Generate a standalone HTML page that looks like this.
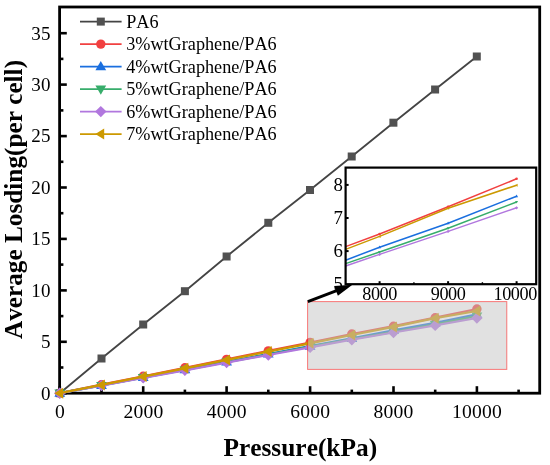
<!DOCTYPE html><html><head><meta charset="utf-8"><title>Average Loading vs Pressure</title>
<style>html,body{margin:0;padding:0;background:#fff}body{width:550px;height:465px;overflow:hidden}svg{display:block}text{font-family:"Liberation Serif","Times New Roman",serif;fill:#000;font-kerning:none}</style></head><body>
<svg width="550" height="465" viewBox="0 0 550 465">
<rect x="0" y="0" width="550" height="465" fill="#fff"/>
<g stroke="#000" stroke-width="2.6" fill="none">
<rect x="59.6" y="7.0" width="480.1" height="386.2" stroke-width="2.8"/>
<line x1="59.8" y1="393.2" x2="59.8" y2="386.2"/>
<line x1="101.5" y1="393.2" x2="101.5" y2="389.6"/>
<line x1="143.2" y1="393.2" x2="143.2" y2="386.2"/>
<line x1="184.9" y1="393.2" x2="184.9" y2="389.6"/>
<line x1="226.6" y1="393.2" x2="226.6" y2="386.2"/>
<line x1="268.3" y1="393.2" x2="268.3" y2="389.6"/>
<line x1="310.1" y1="393.2" x2="310.1" y2="386.2"/>
<line x1="351.8" y1="393.2" x2="351.8" y2="389.6"/>
<line x1="393.5" y1="393.2" x2="393.5" y2="386.2"/>
<line x1="435.2" y1="393.2" x2="435.2" y2="389.6"/>
<line x1="476.9" y1="393.2" x2="476.9" y2="386.2"/>
<line x1="518.6" y1="393.2" x2="518.6" y2="389.6"/>
<line x1="59.6" y1="393.2" x2="66.8" y2="393.2"/>
<line x1="59.6" y1="367.5" x2="63.4" y2="367.5"/>
<line x1="59.6" y1="341.8" x2="66.8" y2="341.8"/>
<line x1="59.6" y1="316.1" x2="63.4" y2="316.1"/>
<line x1="59.6" y1="290.4" x2="66.8" y2="290.4"/>
<line x1="59.6" y1="264.6" x2="63.4" y2="264.6"/>
<line x1="59.6" y1="238.9" x2="66.8" y2="238.9"/>
<line x1="59.6" y1="213.2" x2="63.4" y2="213.2"/>
<line x1="59.6" y1="187.5" x2="66.8" y2="187.5"/>
<line x1="59.6" y1="161.8" x2="63.4" y2="161.8"/>
<line x1="59.6" y1="136.1" x2="66.8" y2="136.1"/>
<line x1="59.6" y1="110.4" x2="63.4" y2="110.4"/>
<line x1="59.6" y1="84.6" x2="66.8" y2="84.6"/>
<line x1="59.6" y1="58.9" x2="63.4" y2="58.9"/>
<line x1="59.6" y1="33.2" x2="66.8" y2="33.2"/>
</g>
<polyline fill="none" stroke="#444" stroke-width="1.8" points="59.8,393.2 101.5,358.5 143.2,324.5 184.9,291.2 226.6,256.5 268.3,222.8 310.0,190.0 351.7,156.5 393.4,122.7 435.1,89.5 476.8,56.5"/>
<rect x="55.8" y="389.2" width="8.0" height="8.0" fill="#515151"/>
<rect x="97.5" y="354.5" width="8.0" height="8.0" fill="#515151"/>
<rect x="139.2" y="320.5" width="8.0" height="8.0" fill="#515151"/>
<rect x="180.9" y="287.2" width="8.0" height="8.0" fill="#515151"/>
<rect x="222.6" y="252.5" width="8.0" height="8.0" fill="#515151"/>
<rect x="264.3" y="218.8" width="8.0" height="8.0" fill="#515151"/>
<rect x="306.0" y="186.0" width="8.0" height="8.0" fill="#515151"/>
<rect x="347.7" y="152.5" width="8.0" height="8.0" fill="#515151"/>
<rect x="389.4" y="118.7" width="8.0" height="8.0" fill="#515151"/>
<rect x="431.1" y="85.5" width="8.0" height="8.0" fill="#515151"/>
<rect x="472.8" y="52.5" width="8.0" height="8.0" fill="#515151"/>
<polyline fill="none" stroke="#f14040" stroke-width="2.2" points="59.8,393.2 101.5,384.7 143.2,376.3 184.9,367.8 226.6,359.4 268.3,350.9 310.1,342.5 351.8,334.0 393.5,326.2 435.2,317.7 476.9,309.0"/>
<circle cx="59.8" cy="393.2" r="4.7" fill="#f14040"/>
<circle cx="101.5" cy="384.7" r="4.7" fill="#f14040"/>
<circle cx="143.2" cy="376.3" r="4.7" fill="#f14040"/>
<circle cx="184.9" cy="367.8" r="4.7" fill="#f14040"/>
<circle cx="226.6" cy="359.4" r="4.7" fill="#f14040"/>
<circle cx="268.3" cy="350.9" r="4.7" fill="#f14040"/>
<circle cx="310.1" cy="342.5" r="4.7" fill="#f14040"/>
<circle cx="351.8" cy="334.0" r="4.7" fill="#f14040"/>
<circle cx="393.5" cy="326.2" r="4.7" fill="#f14040"/>
<circle cx="435.2" cy="317.7" r="4.7" fill="#f14040"/>
<circle cx="476.9" cy="309.0" r="4.7" fill="#f14040"/>
<polyline fill="none" stroke="#1a6fdf" stroke-width="2.2" points="59.8,393.2 101.5,385.4 143.2,377.5 184.9,369.7 226.6,361.9 268.3,354.0 310.1,346.2 351.8,338.4 393.5,330.3 435.2,322.8 476.9,314.4"/>
<polygon points="59.8,387.6 65.2,396.8 54.4,396.8" fill="#1a6fdf"/>
<polygon points="101.5,379.8 106.9,389.0 96.1,389.0" fill="#1a6fdf"/>
<polygon points="143.2,371.9 148.6,381.1 137.8,381.1" fill="#1a6fdf"/>
<polygon points="184.9,364.1 190.3,373.3 179.5,373.3" fill="#1a6fdf"/>
<polygon points="226.6,356.3 232.0,365.5 221.2,365.5" fill="#1a6fdf"/>
<polygon points="268.3,348.4 273.7,357.6 262.9,357.6" fill="#1a6fdf"/>
<polygon points="310.1,340.6 315.5,349.8 304.7,349.8" fill="#1a6fdf"/>
<polygon points="351.8,332.8 357.2,342.0 346.4,342.0" fill="#1a6fdf"/>
<polygon points="393.5,324.7 398.9,333.9 388.1,333.9" fill="#1a6fdf"/>
<polygon points="435.2,317.2 440.6,326.4 429.8,326.4" fill="#1a6fdf"/>
<polygon points="476.9,308.8 482.3,318.0 471.5,318.0" fill="#1a6fdf"/>
<polyline fill="none" stroke="#37ad6b" stroke-width="2.2" points="59.8,393.2 101.5,385.5 143.2,377.7 184.9,370.0 226.6,362.2 268.3,354.5 310.1,346.7 351.8,339.0 393.5,331.8 435.2,324.4 476.9,316.2"/>
<polygon points="59.8,398.8 65.2,389.6 54.4,389.6" fill="#37ad6b"/>
<polygon points="101.5,391.1 106.9,381.9 96.1,381.9" fill="#37ad6b"/>
<polygon points="143.2,383.3 148.6,374.1 137.8,374.1" fill="#37ad6b"/>
<polygon points="184.9,375.6 190.3,366.4 179.5,366.4" fill="#37ad6b"/>
<polygon points="226.6,367.8 232.0,358.6 221.2,358.6" fill="#37ad6b"/>
<polygon points="268.3,360.1 273.7,350.9 262.9,350.9" fill="#37ad6b"/>
<polygon points="310.1,352.3 315.5,343.1 304.7,343.1" fill="#37ad6b"/>
<polygon points="351.8,344.6 357.2,335.4 346.4,335.4" fill="#37ad6b"/>
<polygon points="393.5,337.4 398.9,328.2 388.1,328.2" fill="#37ad6b"/>
<polygon points="435.2,330.0 440.6,320.8 429.8,320.8" fill="#37ad6b"/>
<polygon points="476.9,321.8 482.3,312.6 471.5,312.6" fill="#37ad6b"/>
<polyline fill="none" stroke="#b177de" stroke-width="2.2" points="59.8,393.2 101.5,385.6 143.2,377.9 184.9,370.3 226.6,362.6 268.3,355.0 310.1,347.4 351.8,339.7 393.5,332.5 435.2,325.4 476.9,318.0"/>
<polygon points="59.8,387.5 65.5,393.2 59.8,398.9 54.1,393.2" fill="#b177de"/>
<polygon points="101.5,379.9 107.2,385.6 101.5,391.3 95.8,385.6" fill="#b177de"/>
<polygon points="143.2,372.2 148.9,377.9 143.2,383.6 137.5,377.9" fill="#b177de"/>
<polygon points="184.9,364.6 190.6,370.3 184.9,376.0 179.2,370.3" fill="#b177de"/>
<polygon points="226.6,356.9 232.3,362.6 226.6,368.3 220.9,362.6" fill="#b177de"/>
<polygon points="268.3,349.3 274.0,355.0 268.3,360.7 262.6,355.0" fill="#b177de"/>
<polygon points="310.1,341.7 315.8,347.4 310.1,353.1 304.4,347.4" fill="#b177de"/>
<polygon points="351.8,334.0 357.5,339.7 351.8,345.4 346.1,339.7" fill="#b177de"/>
<polygon points="393.5,326.8 399.2,332.5 393.5,338.2 387.8,332.5" fill="#b177de"/>
<polygon points="435.2,319.7 440.9,325.4 435.2,331.1 429.5,325.4" fill="#b177de"/>
<polygon points="476.9,312.3 482.6,318.0 476.9,323.7 471.2,318.0" fill="#b177de"/>
<polyline fill="none" stroke="#cc9900" stroke-width="2.2" points="59.8,393.2 101.5,384.9 143.2,376.6 184.9,368.3 226.6,359.9 268.3,351.6 310.1,343.3 351.8,335.0 393.5,326.9 435.2,318.2 476.9,311.0"/>
<polygon points="54.3,393.2 63.2,387.7 63.2,398.7" fill="#cc9900"/>
<polygon points="96.0,384.9 104.9,379.4 104.9,390.4" fill="#cc9900"/>
<polygon points="137.7,376.6 146.6,371.1 146.6,382.1" fill="#cc9900"/>
<polygon points="179.4,368.3 188.3,362.8 188.3,373.8" fill="#cc9900"/>
<polygon points="221.1,359.9 230.0,354.4 230.0,365.4" fill="#cc9900"/>
<polygon points="262.8,351.6 271.7,346.1 271.7,357.1" fill="#cc9900"/>
<polygon points="304.6,343.3 313.5,337.8 313.5,348.8" fill="#cc9900"/>
<polygon points="346.3,335.0 355.2,329.5 355.2,340.5" fill="#cc9900"/>
<polygon points="388.0,326.9 396.9,321.4 396.9,332.4" fill="#cc9900"/>
<polygon points="429.7,318.2 438.6,312.7 438.6,323.7" fill="#cc9900"/>
<polygon points="471.4,311.0 480.3,305.5 480.3,316.5" fill="#cc9900"/>
<rect x="307.6" y="301.6" width="199.2" height="67.8" fill="#c4c4c4" fill-opacity="0.5" stroke="#ff0000" stroke-opacity="0.5" stroke-width="1"/>
<g font-size="19.6" letter-spacing="0.2" text-anchor="middle">
<text x="59.9" y="417.6">0</text>
<text x="143.4" y="417.6">2000</text>
<text x="226.8" y="417.6">4000</text>
<text x="310.2" y="417.6">6000</text>
<text x="393.6" y="417.6">8000</text>
<text x="477.0" y="417.6">10000</text>
</g>
<g font-size="19" letter-spacing="0.35" text-anchor="end">
<text x="50.9" y="399.5">0</text>
<text x="50.9" y="348.1">5</text>
<text x="50.9" y="296.7">10</text>
<text x="50.9" y="245.2">15</text>
<text x="50.9" y="193.8">20</text>
<text x="50.9" y="142.4">25</text>
<text x="50.9" y="90.9">30</text>
<text x="50.9" y="39.5">35</text>
</g>
<text x="300.3" y="455.7" font-size="25.4" font-weight="bold" text-anchor="middle">Pressure(kPa)</text>
<text transform="translate(22.4,199.5) rotate(-90)" font-size="25.25" font-weight="bold" text-anchor="middle">Average Losding(per cell)</text>
<line x1="80" y1="21.6" x2="121.6" y2="21.6" stroke="#444" stroke-width="1.8"/>
<rect x="96.8" y="17.6" width="8.0" height="8.0" fill="#515151"/>
<text x="126.2" y="27.7" font-size="18.2">PA6</text>
<line x1="80" y1="44.1" x2="121.6" y2="44.1" stroke="#f14040" stroke-width="1.8"/>
<circle cx="100.8" cy="44.1" r="4.7" fill="#f14040"/>
<text x="126.2" y="50.2" font-size="18.2">3%wtGraphene/PA6</text>
<line x1="80" y1="66.6" x2="121.6" y2="66.6" stroke="#1a6fdf" stroke-width="1.8"/>
<polygon points="100.8,61.0 106.2,70.2 95.4,70.2" fill="#1a6fdf"/>
<text x="126.2" y="72.7" font-size="18.2">4%wtGraphene/PA6</text>
<line x1="80" y1="89.1" x2="121.6" y2="89.1" stroke="#37ad6b" stroke-width="1.8"/>
<polygon points="100.8,94.7 106.2,85.5 95.4,85.5" fill="#37ad6b"/>
<text x="126.2" y="95.2" font-size="18.2">5%wtGraphene/PA6</text>
<line x1="80" y1="111.6" x2="121.6" y2="111.6" stroke="#b177de" stroke-width="1.8"/>
<polygon points="100.8,105.9 106.5,111.6 100.8,117.3 95.1,111.6" fill="#b177de"/>
<text x="126.2" y="117.7" font-size="18.2">6%wtGraphene/PA6</text>
<line x1="80" y1="134.1" x2="121.6" y2="134.1" stroke="#cc9900" stroke-width="1.8"/>
<polygon points="95.3,134.1 104.2,128.6 104.2,139.6" fill="#cc9900"/>
<text x="126.2" y="140.2" font-size="18.2">7%wtGraphene/PA6</text>
<rect x="345.6" y="167.6" width="190.6" height="116.6" fill="#fff"/>
<polyline fill="none" stroke="#f14040" stroke-width="1.5" points="345.6,246.6 379.6,234.0 448.1,206.8 516.6,178.8"/>
<circle cx="379.6" cy="234.0" r="1.3" fill="#f14040"/>
<circle cx="448.1" cy="206.8" r="1.3" fill="#f14040"/>
<circle cx="516.6" cy="178.8" r="1.3" fill="#f14040"/>
<polyline fill="none" stroke="#1a6fdf" stroke-width="1.5" points="345.6,260.2 379.6,247.2 448.1,223.2 516.6,196.2"/>
<polygon points="379.6,245.6 381.1,248.2 378.1,248.2" fill="#1a6fdf"/>
<polygon points="448.1,221.6 449.6,224.2 446.6,224.2" fill="#1a6fdf"/>
<polygon points="516.6,194.6 518.1,197.2 515.1,197.2" fill="#1a6fdf"/>
<polyline fill="none" stroke="#37ad6b" stroke-width="1.5" points="345.6,263.6 379.6,252.0 448.1,228.2 516.6,202.0"/>
<polygon points="379.6,253.6 381.1,251.0 378.1,251.0" fill="#37ad6b"/>
<polygon points="448.1,229.8 449.6,227.2 446.6,227.2" fill="#37ad6b"/>
<polygon points="516.6,203.6 518.1,201.0 515.1,201.0" fill="#37ad6b"/>
<polyline fill="none" stroke="#b177de" stroke-width="1.5" points="345.6,266.0 379.6,254.4 448.1,231.4 516.6,207.8"/>
<polygon points="379.6,252.8 381.2,254.4 379.6,256.0 378.0,254.4" fill="#b177de"/>
<polygon points="448.1,229.8 449.7,231.4 448.1,233.0 446.5,231.4" fill="#b177de"/>
<polygon points="516.6,206.2 518.2,207.8 516.6,209.4 515.0,207.8" fill="#b177de"/>
<polyline fill="none" stroke="#cc9900" stroke-width="1.5" points="345.6,249.4 379.6,236.4 448.1,208.2 516.6,185.2"/>
<polygon points="378.1,236.4 380.6,234.9 380.6,237.9" fill="#cc9900"/>
<polygon points="446.6,208.2 449.1,206.7 449.1,209.7" fill="#cc9900"/>
<polygon points="515.1,185.2 517.6,183.7 517.6,186.7" fill="#cc9900"/>
<g stroke="#000" stroke-width="2" fill="none">
<rect x="345.6" y="167.6" width="190.6" height="116.6" stroke-width="2.2"/>
<line x1="379.6" y1="284.2" x2="379.6" y2="281.2"/>
<line x1="448.1" y1="284.2" x2="448.1" y2="281.2"/>
<line x1="516.6" y1="284.2" x2="516.6" y2="281.2"/>
<line x1="413.9" y1="284.2" x2="413.9" y2="282.2" stroke-width="1.4"/>
<line x1="482.4" y1="284.2" x2="482.4" y2="282.2" stroke-width="1.4"/>
<line x1="345.6" y1="251.1" x2="348.6" y2="251.1"/>
<line x1="345.6" y1="218.0" x2="348.6" y2="218.0"/>
<line x1="345.6" y1="184.9" x2="348.6" y2="184.9"/>
</g>
<g font-size="18.2" letter-spacing="-0.45" text-anchor="middle">
<text x="379.6" y="300.4">8000</text>
<text x="448.1" y="300.4">9000</text>
<text x="515.2" y="300.4">10000</text>
</g>
<g font-size="18.8" text-anchor="end">
<text x="343" y="289.9">5</text>
<text x="343" y="256.8">6</text>
<text x="343" y="223.7">7</text>
<text x="343" y="190.6">8</text>
</g>
<line x1="307.8" y1="301.6" x2="338" y2="290.1" stroke="#000" stroke-width="3"/>
<polygon points="352.4,284.7 334.1,286.0 337.9,295.8" fill="#000"/>
</svg></body></html>
